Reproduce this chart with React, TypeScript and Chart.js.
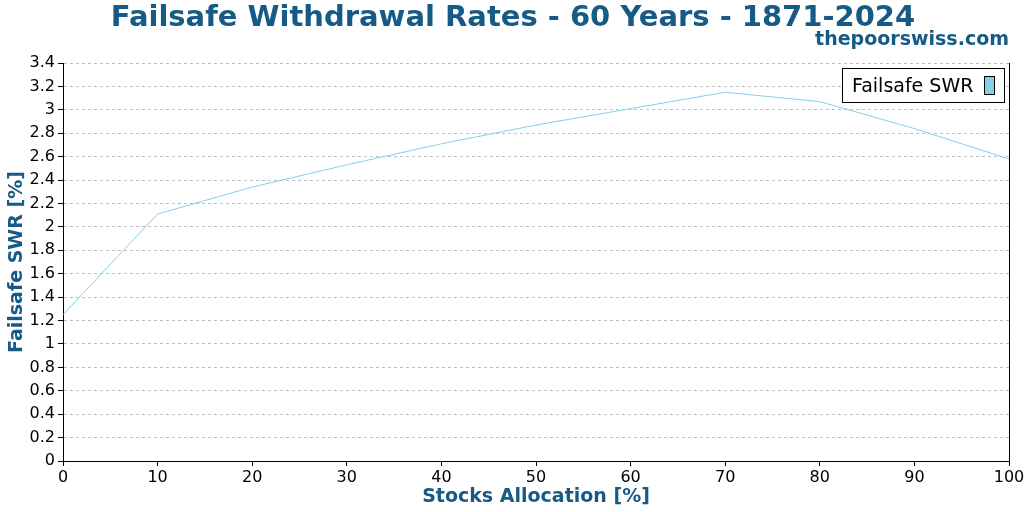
import React, { useEffect, useRef } from "react";
import { Chart, registerables } from "chart.js";

Chart.register(...registerables);

const TITLE = "Failsafe Withdrawal Rates - 60 Years - 1871-2024";
const SUBTITLE = "thepoorswiss.com";
const SERIES_LABEL = "Failsafe SWR";
const X_TITLE = "Stocks Allocation [%]";
const Y_TITLE = "Failsafe SWR [%]";

const ALLOCATIONS = [0, 10, 20, 30, 40, 50, 60, 70, 80, 90, 100];
const SWR = [1.25, 2.11, 2.34, 2.53, 2.71, 2.87, 3.01, 3.15, 3.07, 2.84, 2.58];
const Y_TICKS = [0, 0.2, 0.4, 0.6, 0.8, 1, 1.2, 1.4, 1.6, 1.8, 2, 2.2, 2.4, 2.6, 2.8, 3, 3.2, 3.4];
const X_TICKS = [0, 10, 20, 30, 40, 50, 60, 70, 80, 90, 100];

const BLUE = "#165a86";
const LINE = "#87CEEB";
const FONT = "'DejaVu Sans', sans-serif";

export default function App() {
  const ref = useRef<HTMLCanvasElement | null>(null);

  useEffect(() => {
    if (!ref.current) return;
    const decor = {
      id: "decor",
      afterDraw(chart: any) {
        const ctx = chart.ctx as CanvasRenderingContext2D;
        const a = chart.chartArea;
        ctx.save();
        // right border
        ctx.strokeStyle = "#000";
        ctx.lineWidth = 1;
        ctx.setLineDash([]);
        ctx.beginPath();
        ctx.moveTo(Math.round(a.right) + 0.5, a.top);
        ctx.lineTo(Math.round(a.right) + 0.5, a.bottom);
        ctx.stroke();
        // title
        ctx.fillStyle = BLUE;
        ctx.font = `bold 29px ${FONT}`;
        ctx.textAlign = "center";
        ctx.textBaseline = "alphabetic";
        ctx.fillText(TITLE, 513, 26);
        ctx.font = `bold 19px ${FONT}`;
        ctx.textAlign = "right";
        ctx.fillText(SUBTITLE, 1009, 45);
        // legend
        const bx = 842.5, by = 68.5, bw = 162, bh = 34;
        ctx.fillStyle = "#fff";
        ctx.fillRect(bx, by, bw, bh);
        ctx.strokeStyle = "#000";
        ctx.strokeRect(bx, by, bw, bh);
        ctx.fillStyle = "#000";
        ctx.font = `19px ${FONT}`;
        ctx.textAlign = "left";
        ctx.fillText(SERIES_LABEL, 852, 92);
        ctx.fillStyle = LINE;
        ctx.fillRect(984.5, 76.5, 10, 18);
        ctx.strokeRect(984.5, 76.5, 10, 18);
        ctx.restore();
      },
    };

    const chart = new Chart(ref.current, {
      type: "line",
      data: {
        datasets: [
          {
            label: SERIES_LABEL,
            data: ALLOCATIONS.map((x, i) => ({ x, y: SWR[i] })),
            borderColor: LINE,
            backgroundColor: LINE,
            borderWidth: 1,
            pointRadius: 0,
            tension: 0,
          },
        ],
      },
      options: {
        responsive: false,
        animation: false,
        devicePixelRatio: 1,
        layout: { padding: { top: 63, right: 15, bottom: 0, left: 0 } },
        plugins: {
          legend: { display: false },
          title: { display: false },
          tooltip: { enabled: false },
        },
        scales: {
          x: {
            type: "linear",
            min: 0,
            max: 100,
            afterBuildTicks: (s: any) => {
              s.ticks = X_TICKS.map((v) => ({ value: v }));
            },
            afterFit: (s: any) => {
              s.height = 51;
              s.paddingLeft = 0;
              s.paddingRight = 0;
            },
            grid: {
              drawOnChartArea: false,
              drawTicks: true,
              tickLength: 5,
              tickColor: "#000",
              tickWidth: 1,
            },
            border: { display: true, color: "#000", width: 1 },
            ticks: {
              color: "#000",
              font: { family: FONT, size: 16 },
              padding: 2,
              maxRotation: 0,
              autoSkip: false,
            },
            title: {
              display: true,
              text: X_TITLE,
              color: BLUE,
              font: { family: FONT, size: 19, weight: "bold" },
              padding: { top: 0, bottom: 4 },
            },
          },
          y: {
            type: "linear",
            min: 0,
            max: 3.4,
            afterBuildTicks: (s: any) => {
              s.ticks = Y_TICKS.map((v) => ({ value: v }));
            },
            afterFit: (s: any) => {
              s.width = 63;
              s.paddingTop = 0;
              s.paddingBottom = 0;
            },
            grid: {
              drawOnChartArea: true,
              drawTicks: true,
              color: "#c0c0c0",
              tickLength: 5,
              tickColor: "#000",
              tickWidth: 1,
              tickBorderDash: [],
            } as any,
            border: { display: true, color: "#000", width: 1, dash: [3, 3] },
            ticks: {
              color: "#000",
              font: { family: FONT, size: 16 },
              padding: 3,
              autoSkip: false,
              callback: (v: any) => String(Number(Number(v).toFixed(1))),
            },
            title: {
              display: true,
              text: Y_TITLE,
              color: BLUE,
              font: { family: FONT, size: 19, weight: "bold" },
              padding: { top: 6, bottom: 0 },
            },
          },
        },
      } as any,
      plugins: [decor],
    });
    return () => chart.destroy();
  }, []);

  return (
    <div style={{ position: "absolute", left: 0, top: 0, width: 1024, height: 512, background: "#fff" }}>
      <canvas ref={ref} width={1024} height={512} style={{ display: "block", width: 1024, height: 512 }} />
    </div>
  );
}
